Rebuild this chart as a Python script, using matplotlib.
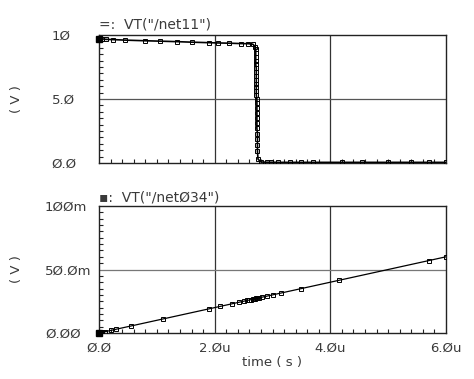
import matplotlib
matplotlib.use("Agg")
import matplotlib.pyplot as plt
from matplotlib.ticker import MultipleLocator, FixedLocator

# ---- data (time in microseconds) ----
t_net11 = [0.0, 0.05, 0.12, 0.25, 0.45, 0.8, 1.05, 1.35, 1.6, 1.9, 2.05, 2.25, 2.45, 2.58, 2.66, 2.70,
           2.71, 2.71, 2.71, 2.71, 2.71, 2.72, 2.72, 2.72, 2.72, 2.72, 2.72, 2.72, 2.72, 2.73, 2.73,
           2.73, 2.73, 2.73, 2.73, 2.73, 2.74, 2.74, 2.74, 2.74, 2.75,
           2.8, 2.9, 2.98, 3.1, 3.3, 3.5, 3.7, 4.2, 4.55, 5.0, 5.4, 5.7, 6.0]
v_net11 = [9.72, 9.70, 9.66, 9.64, 9.60, 9.55, 9.52, 9.48, 9.44, 9.40, 9.38, 9.36, 9.33, 9.32, 9.28, 9.10,
           8.9, 8.6, 8.3, 8.0, 7.7, 7.4, 7.1, 6.8, 6.5, 6.2, 5.9, 5.6, 5.3, 5.0, 4.7,
           4.3, 3.9, 3.5, 3.1, 2.7, 2.3, 1.9, 1.4, 0.9, 0.3,
           0.08, 0.06, 0.06, 0.05, 0.05, 0.05, 0.05, 0.05, 0.05, 0.05, 0.05, 0.05, 0.05]

t_net034 = [0.0, 0.02, 0.05, 0.1, 0.2, 0.3, 0.55, 1.1, 1.9, 2.1, 2.3, 2.42, 2.5, 2.56, 2.6, 2.63,
            2.66, 2.68, 2.70, 2.72, 2.74, 2.77, 2.82, 2.9, 3.0, 3.15, 3.5, 4.15, 5.7, 6.0]
v_net034 = [0.0, 0.3, 0.6, 1.0, 2.0, 3.0, 5.5, 11.0, 19.0, 21.0, 23.0, 24.2, 25.0, 25.6, 26.0, 26.3,
            26.6, 26.8, 27.0, 27.2, 27.4, 27.7, 28.2, 29.0, 30.0, 31.5, 35.0, 41.5, 57.0, 60.0]  # mV

ax_ticks = [0.0, 2.0, 4.0, 6.0]
ax_ticklabels = ["Ø.Ø", "2.Øu", "4.Øu", "6.Øu"]
top_yticks = [0, 5, 10]
top_yticklabels = ["Ø.Ø", "5.Ø", "1Ø"]
bot_yticks = [0, 50, 100]
bot_yticklabels = ["Ø.ØØ", "5Ø.Øm", "1ØØm"]

W, H = 474, 379
fig = plt.figure(figsize=(W / 100, H / 100), dpi=100)
plt.rcParams['font.family'] = ['DejaVu Sans']
tc = '#3a3a3a'
fs = 9.5

def frac(x0, y0, x1, y1):
    return [x0 / W, 1 - y1 / H, (x1 - x0) / W, (y1 - y0) / H]

ax1 = fig.add_axes(frac(99, 35, 446, 163))
ax2 = fig.add_axes(frac(99, 206, 446, 333))

for ax in (ax1, ax2):
    ax.set_xlim(0, 6.0)
    for s in ax.spines.values():
        s.set_linewidth(1.0)
        s.set_color('#222222')
    ax.xaxis.set_major_locator(FixedLocator(ax_ticks))
    ax.xaxis.set_minor_locator(MultipleLocator(0.2))
    ax.tick_params(axis='both', which='both', direction='in', length=3, width=0.8, colors='#222222',
                   labelcolor=tc, labelsize=fs, top=False, right=False)
    ax.tick_params(axis='both', which='major', length=0)
    for xv in (2.0, 4.0):
        ax.axvline(xv, color='#333333', lw=0.9, zorder=1)

# Top panel
ax1.set_ylim(0, 10)
ax1.set_yticks(top_yticks)
ax1.set_yticklabels(top_yticklabels, ha='left')
ax1.tick_params(axis='y', which='major', pad=34)
ax1.yaxis.set_minor_locator(MultipleLocator(0.5))
ax1.set_xticklabels([])
ax1.axhline(5, color='#555555', lw=0.9, zorder=1)
ax1.plot(t_net11, v_net11, color='black', lw=1.2, marker='s', ms=2.5, mfc='none', mec='black',
         mew=0.7, zorder=3)
ax1.plot([0.0], [9.72], marker='s', ms=5, color='black', zorder=4, clip_on=False)
ax1.yaxis.set_label_coords(-76 / 347, 0.5)
ax1.set_ylabel("( V )", color=tc, fontsize=fs)
ax1.text(0.0, 1.025, '=:  VT("/net11")', transform=ax1.transAxes, fontsize=10, color=tc,
         ha='left', va='bottom')

# Bottom panel
ax2.set_ylim(0, 100)
ax2.set_yticks(bot_yticks)
ax2.set_yticklabels(bot_yticklabels, ha='left')
ax2.tick_params(axis='y', which='major', pad=39)
ax2.yaxis.set_minor_locator(MultipleLocator(5))
ax2.set_xticklabels(ax_ticklabels)
ax2.tick_params(axis='x', which='major', pad=6)
ax2.axhline(50, color='#777777', lw=0.9, zorder=1)
ax2.plot(t_net034, v_net034, color='black', lw=0.9, marker='s', ms=2.5, mfc='none', mec='black',
         mew=0.7, zorder=3)
ax2.plot([0.0], [0.0], marker='s', ms=4, color='black', zorder=4, clip_on=False)
ax2.yaxis.set_label_coords(-76 / 347, 0.5)
ax2.set_ylabel("( V )", color=tc, fontsize=fs)
ax2.set_xlabel("time ( s )", color=tc, fontsize=fs, labelpad=1)
ax2.text(0.0, 1.01, '▪:  VT("/netØ34")', transform=ax2.transAxes, fontsize=10, color=tc,
         ha='left', va='bottom')

fig.savefig("out.png", dpi=100)
